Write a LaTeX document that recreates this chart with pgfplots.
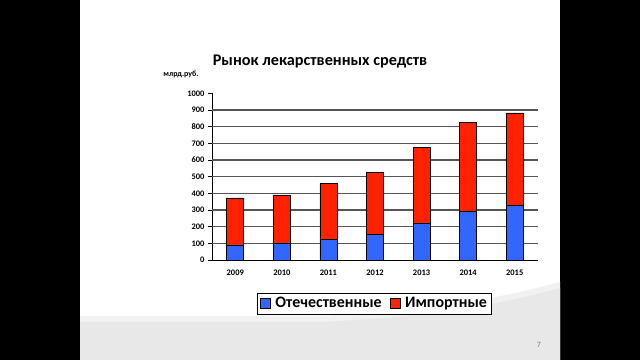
\documentclass[border=0pt]{standalone}
\usepackage{pgfplots}
\pgfplotsset{compat=1.18}
\usepackage{fontspec}
\setmainfont{Carlito}
\definecolor{dom}{HTML}{3366FF}
\definecolor{imp}{HTML}{FF2200}
\definecolor{gridc}{HTML}{555555}
\definecolor{slidegray}{HTML}{E8E8E8}
\begin{document}
\begin{tikzpicture}
\useasboundingbox (0,0) rectangle (640bp,360bp);
\fill[black] (0,0) rectangle (640bp,360bp);
\fill[white] (80bp,0) rectangle (560bp,360bp);
\fill[slidegray!60] (80bp,0) -- (80bp,44bp) -- (320bp,44bp) .. controls (440bp,50bp) and (500bp,62bp) .. (560bp,78bp) -- (560bp,0) -- cycle;
\fill[slidegray] (80bp,0) -- (80bp,38bp) -- (320bp,38bp) .. controls (440bp,44bp) and (500bp,56bp) .. (560bp,72bp) -- (560bp,0) -- cycle;
\node[font=\fontsize{16.3}{18}\selectfont\bfseries] at (320bp,298bp) {Рынок лекарственных средств};
\node[font=\fontsize{8}{9}\selectfont\bfseries] at (181bp,286bp) {млрд.руб.};
\node[font=\fontsize{8}{9}\selectfont, text=gray] at (539bp,15bp) {7};
\begin{axis}[
  at={(212bp,100bp)}, anchor=south west,
  scale only axis, width=326bp, height=166.7bp,
  ybar stacked, bar width=17bp,
  xmin=-0.5, xmax=6.5, ymin=0, ymax=1000,
  xtick={0,...,6},
  xticklabels={2009,2010,2011,2012,2013,2014,2015},
  ytick={0,100,...,1000},
  extra x ticks={-0.5,0.5,1.5,2.5,3.5,4.5,5.5,6.5},
  extra x tick labels={},
  extra x tick style={major tick length=4bp, tick style={black, line width=0.6pt}},
  major x tick style={draw=none},
  extra y ticks={100,200,...,900},
  extra y tick labels={},
  extra y tick style={ymajorgrids=true, grid style={gridc, line width=1.5bp}, major tick length=4bp},
  axis x line=bottom, axis y line=left,
  axis line style={-, black, line width=0.8pt},
  tick align=outside,
  major tick length=4bp,
  tick style={black, line width=0.6pt},
  ticklabel style={font=\fontsize{8.5}{9}\selectfont\bfseries},
  /pgf/number format/assume math mode=true,
  /pgf/number format/1000 sep={},
  xticklabel style={yshift=-2bp},
  legend columns=2,
  legend style={at={(0.498,-0.261)}, anchor=center, draw=black, line width=0.6pt,
    font=\fontsize{16}{18}\selectfont\bfseries, inner xsep=2bp, inner ysep=2.5bp,
    /tikz/every odd column/.append style={column sep=3bp},
    /tikz/every even column/.append style={column sep=6bp}},
  legend image code/.code={\draw[#1, line width=0.6pt] (0bp,-5bp) rectangle (10bp,5bp);},
]
\addplot[fill=dom, draw=black, line width=0.6pt] coordinates {(0,90) (1,102) (2,122) (3,152) (4,222) (5,292) (6,328)};
\addplot[fill=imp, draw=black, line width=0.6pt] coordinates {(0,283) (1,288) (2,338) (3,372) (4,452) (5,533) (6,554)};
\legend{Отечественные, Импортные}
\end{axis}
\end{tikzpicture}
\end{document}
